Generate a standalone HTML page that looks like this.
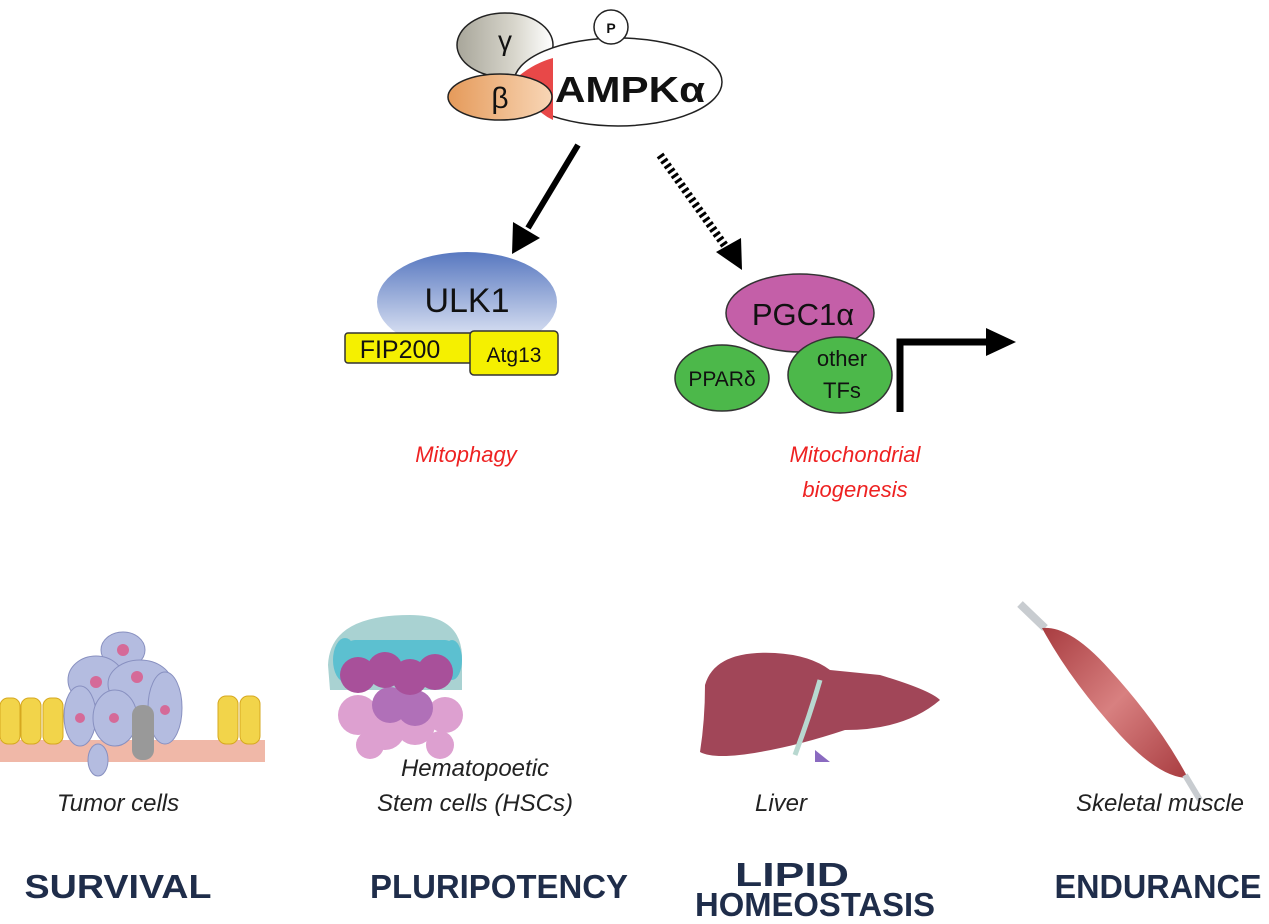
<!DOCTYPE html>
<html><head><meta charset="utf-8"><style>
html,body{margin:0;padding:0;background:#fff;}
svg{display:block;}
.it{font-family:"Liberation Sans",sans-serif;font-style:italic;fill:#222;font-size:24px;text-anchor:middle;}
.cap{font-family:"Liberation Sans",sans-serif;font-weight:bold;fill:#1f2d4a;font-size:33px;text-anchor:middle;}
.red{font-family:"Liberation Sans",sans-serif;font-style:italic;fill:#ee2222;font-size:22px;text-anchor:middle;}
.lb{font-family:"Liberation Sans",sans-serif;fill:#111;text-anchor:middle;}
</style></head><body>
<svg width="1269" height="924" viewBox="0 0 1269 924" xmlns="http://www.w3.org/2000/svg">
<defs>
<linearGradient id="gg" x1="0" y1="0" x2="1" y2="0"><stop offset="0" stop-color="#a8a69a"/><stop offset="0.6" stop-color="#d8d6cc"/><stop offset="1" stop-color="#fff"/></linearGradient>
<linearGradient id="bg" x1="0" y1="0" x2="1" y2="0"><stop offset="0" stop-color="#e59a5a"/><stop offset="1" stop-color="#f8d6b6"/></linearGradient>
<linearGradient id="ug" x1="0" y1="0" x2="0" y2="1"><stop offset="0" stop-color="#5878c0"/><stop offset="1" stop-color="#f0f3fb"/></linearGradient>
<linearGradient id="mg" x1="0" y1="0" x2="1" y2="1"><stop offset="0" stop-color="#a83c40"/><stop offset="0.5" stop-color="#d88080"/><stop offset="1" stop-color="#a83c40"/></linearGradient>
</defs>
<ellipse cx="505" cy="45" rx="48" ry="32" fill="url(#gg)" stroke="#222" stroke-width="1.5"/>
<ellipse cx="618" cy="82" rx="104" ry="44" fill="#fff" stroke="#222" stroke-width="1.5"/>
<path d="M553 58 L553 120 Q530 110 520 75 Q535 63 553 58Z" fill="#e84848"/>
<ellipse cx="500" cy="97" rx="52" ry="23" fill="url(#bg)" stroke="#222" stroke-width="1.5"/>
<circle cx="611" cy="27" r="17" fill="#fff" stroke="#222" stroke-width="1.5"/>
<text x="611" y="33" class="lb" font-size="14" font-weight="bold">P</text>
<text x="505" y="50" class="lb" font-size="28" font-family="DejaVu Serif,serif">γ</text>
<text x="500" y="108" class="lb" font-size="30" font-family="DejaVu Serif,serif">β</text>
<text x="630" y="102" class="lb" font-size="36" font-weight="bold" textLength="150" lengthAdjust="spacingAndGlyphs">AMPKα</text>
<line x1="578" y1="145" x2="528" y2="228" stroke="#000" stroke-width="6"/>
<polygon points="512,254 513,222 540,238" fill="#000"/>
<line x1="660" y1="155" x2="728" y2="250" stroke="#000" stroke-width="8" stroke-dasharray="3,3"/>
<polygon points="742,270 716,252 741,238" fill="#000"/>
<ellipse cx="467" cy="302" rx="90" ry="50" fill="url(#ug)"/>
<text x="467" y="312" class="lb" font-size="34">ULK1</text>
<rect x="345" y="333" width="130" height="30" rx="3" fill="#f5f000" stroke="#333" stroke-width="1.5"/>
<text x="400" y="358" class="lb" font-size="25">FIP200</text>
<rect x="470" y="331" width="88" height="44" rx="4" fill="#f5f000" stroke="#333" stroke-width="1.5"/>
<text x="514" y="362" class="lb" font-size="21">Atg13</text>
<ellipse cx="800" cy="313" rx="74" ry="39" fill="#c45fa8" stroke="#333" stroke-width="1.5"/>
<text x="803" y="325" class="lb" font-size="31">PGC1α</text>
<ellipse cx="722" cy="378" rx="47" ry="33" fill="#4cb84a" stroke="#333" stroke-width="1.5"/>
<text x="722" y="386" class="lb" font-size="21">PPARδ</text>
<ellipse cx="840" cy="375" rx="52" ry="38" fill="#4cb84a" stroke="#333" stroke-width="1.5"/>
<text x="842" y="366" class="lb" font-size="22">other</text>
<text x="842" y="398" class="lb" font-size="22">TFs</text>
<polyline points="900,412 900,342 990,342" fill="none" stroke="#000" stroke-width="7"/>
<polygon points="1016,342 986,328 986,356" fill="#000"/>
<text x="466" y="462" class="red">Mitophagy</text>
<text x="855" y="462" class="red">Mitochondrial</text>
<text x="855" y="497" class="red">biogenesis</text>
<rect x="0" y="740" width="265" height="22" fill="#f0b8a8"/>
<g fill="#f2d44a" stroke="#d6a820">
<rect x="0" y="698" width="20" height="46" rx="8"/><rect x="21" y="698" width="20" height="46" rx="8"/><rect x="43" y="698" width="20" height="46" rx="8"/>
<rect x="218" y="696" width="20" height="48" rx="8"/><rect x="240" y="696" width="20" height="48" rx="8"/>
</g>
<g fill="#b4bce0" stroke="#8890c0">
<ellipse cx="123" cy="650" rx="22" ry="18"/><ellipse cx="96" cy="680" rx="28" ry="24"/><ellipse cx="140" cy="684" rx="32" ry="24"/>
<ellipse cx="80" cy="716" rx="16" ry="30"/><ellipse cx="115" cy="718" rx="22" ry="28"/><ellipse cx="165" cy="708" rx="17" ry="36"/>
<ellipse cx="98" cy="760" rx="10" ry="16"/>
</g>
<rect x="132" y="705" width="22" height="55" rx="10" fill="#999"/>
<g fill="#d56a98"><circle cx="123" cy="650" r="6"/><circle cx="96" cy="682" r="6"/><circle cx="137" cy="677" r="6"/><circle cx="80" cy="718" r="5"/><circle cx="114" cy="718" r="5"/><circle cx="165" cy="710" r="5"/></g>
<path d="M328 665 Q330 615 410 615 Q460 615 462 655 L462 690 L330 690Z" fill="#a9d2d2"/>
<g fill="#5cc0d0"><ellipse cx="345" cy="660" rx="12" ry="22"/><rect x="345" y="640" width="110" height="22" rx="10"/><ellipse cx="452" cy="660" rx="10" ry="20"/></g>
<g fill="#dda0d0"><circle cx="358" cy="715" r="20"/><circle cx="385" cy="730" r="20"/><circle cx="415" cy="725" r="20"/><circle cx="445" cy="715" r="18"/><circle cx="370" cy="745" r="14"/><circle cx="440" cy="745" r="14"/></g>
<g fill="#b070b8"><circle cx="390" cy="705" r="18"/><circle cx="415" cy="708" r="18"/></g>
<g fill="#a8509a"><circle cx="358" cy="675" r="18"/><circle cx="385" cy="670" r="18"/><circle cx="410" cy="677" r="18"/><circle cx="435" cy="672" r="18"/></g>
<path d="M705 685 Q715 650 775 653 Q810 655 830 670 L880 675 Q930 690 940 700 Q905 730 845 730 Q800 745 760 752 Q715 760 700 752 Q705 720 705 685Z" fill="#a14658"/>
<path d="M820 680 Q810 715 795 755" stroke="#b8d8d0" stroke-width="5" fill="none"/>
<polygon points="815,750 830,762 815,762" fill="#8a6ac0"/>
<line x1="1020" y1="604" x2="1045" y2="628" stroke="#c8ccd0" stroke-width="8"/>
<path d="M1042 628 Q1070 625 1110 670 Q1160 725 1188 778 Q1160 778 1120 735 Q1070 680 1042 628Z" fill="url(#mg)"/>
<line x1="1185" y1="775" x2="1200" y2="800" stroke="#c8ccd0" stroke-width="6"/>
<text x="118" y="811" class="it">Tumor cells</text>
<text x="475" y="776" class="it">Hematopoetic</text>
<text x="475" y="811" class="it">Stem cells (HSCs)</text>
<text x="781" y="811" class="it">Liver</text>
<text x="1160" y="811" class="it" font-size="27">Skeletal muscle</text>
<text x="118" y="898" class="cap" textLength="187" lengthAdjust="spacingAndGlyphs">SURVIVAL</text>
<text x="499" y="898" class="cap" textLength="258" lengthAdjust="spacingAndGlyphs">PLURIPOTENCY</text>
<text x="792" y="886" class="cap" textLength="114" lengthAdjust="spacingAndGlyphs">LIPID</text>
<text x="815" y="916" class="cap" textLength="240" lengthAdjust="spacingAndGlyphs">HOMEOSTASIS</text>
<text x="1158" y="898" class="cap" textLength="207" lengthAdjust="spacingAndGlyphs">ENDURANCE</text>
</svg>
</body></html>
